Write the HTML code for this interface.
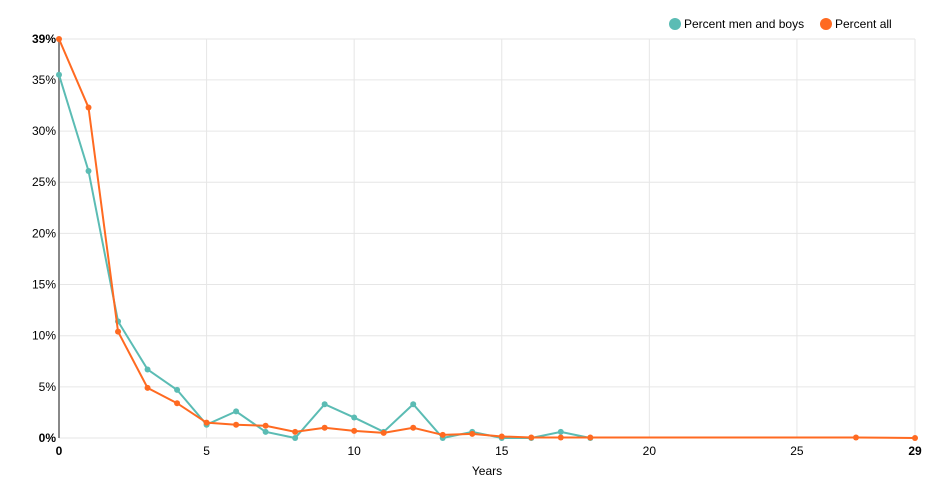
<!DOCTYPE html>
<html><head><meta charset="utf-8"><style>
body{margin:0;background:#fff;font-family:"Liberation Sans",sans-serif;}
svg text{font-family:"Liberation Sans",sans-serif;}
</style></head><body>
<svg id="chart" width="944" height="497"></svg>
<script>
const teal = [35.5,26.1,11.4,6.7,4.7,1.3,2.6,0.6,0,3.3,2.0,0.6,3.3,0,0.6,0,0,0.6,0];
const tealYears = [0,1,2,3,4,5,6,7,8,9,10,11,12,13,14,15,16,17,18];
const orange = [39,32.3,10.4,4.9,3.4,1.5,1.3,1.2,0.6,1.0,0.7,0.5,1.0,0.3,0.4,0.15,0.05,0.05,0.05,0.05,0];
const orangeYears = [0,1,2,3,4,5,6,7,8,9,10,11,12,13,14,15,16,17,18,27,29];
const yTicks = [0,5,10,15,20,25,30,35,39];
const xTicks = [0,5,10,15,20,25,29];

const NS="http://www.w3.org/2000/svg";
const svg=document.getElementById('chart');
const x0=59,x1=915,y0=438,y1=39;
const X=v=>x0+(v/29)*(x1-x0);
const Y=v=>y0-(v/39)*(y0-y1);
function mk(t,a,p){const e=document.createElementNS(NS,t);for(const k in a)e.setAttribute(k,a[k]);(p||svg).appendChild(e);return e;}

yTicks.forEach(t=>{
  const g=mk('line',{x1:x0,x2:x1,y1:Y(t),y2:Y(t),stroke:'#e6e6e6','stroke-width':1});
  
  
  const l=mk('text',{x:x0-3,y:Y(t)+4,'text-anchor':'end','font-size':12,fill:'#000','font-weight':(t===0||t===39)?'bold':'normal'});
  l.textContent=t+'%';
  
  
});
xTicks.forEach(t=>{
  const g=mk('line',{x1:X(t),x2:X(t),y1:y1,y2:y0,stroke:'#e6e6e6','stroke-width':1});
  
  
  const l=mk('text',{x:X(t),y:455,'text-anchor':'middle','font-size':12,fill:'#000','font-weight':(t===0||t===29)?'bold':'normal'});
  l.textContent=t;
  
  
});
const ax=mk('line',{x1:x0,x2:x0,y1:y1,y2:y0,stroke:'#888','stroke-width':2});


const xt=mk('text',{x:487,y:475,'text-anchor':'middle','font-size':12,fill:'#000'});
xt.textContent='Years';



function series(vals,yrs,color,name){
  const pl=mk('polyline',{points:vals.map((v,i)=>X(yrs[i])+','+Y(v)).join(' '),fill:'none',stroke:color,'stroke-width':2});
  
  
  vals.forEach((v,i)=>{
    const c=mk('circle',{cx:X(yrs[i]),cy:Y(v),r:3,fill:color});
    
    
  });
}
series(teal,tealYears,'#5bbcb4','percent-men-and-boys');
series(orange,orangeYears,'#ff6a21','percent-all');

const lg=[['#5bbcb4','Percent men and boys',669],['#ff6a21','Percent all',820]];
lg.forEach(([c,t,x])=>{
  const ci=mk('circle',{cx:x+6,cy:24,r:6,fill:c});
  
  
  const tx=mk('text',{x:x+15,y:28,'font-size':12,fill:'#000'});
  tx.textContent=t;
  
  
});
</script>
</body></html>
